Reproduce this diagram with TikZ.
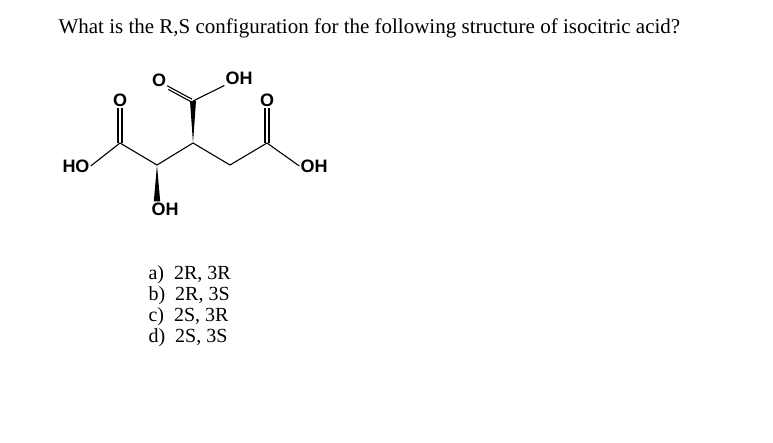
\documentclass[tikz,border=0pt]{standalone}
\usepackage{fontspec}
\setmainfont{Liberation Serif}
\newfontfamily\atomfont{Liberation Sans}
\begin{document}
\begin{tikzpicture}[x=1pt,y=-1pt,
  atom/.style={font=\atomfont\bfseries\fontsize{18}{18}\selectfont, inner sep=1pt},
  bond/.style={line width=1.1pt},
  wedge/.style={fill=black}]
\useasboundingbox (0,0) rectangle (773,442);
\node[anchor=west, font=\fontsize{21}{24}\selectfont] (q) at (55,28) {What is the R,S configuration for the following structure of isocitric acid?};
% skeleton
\coordinate (c1) at (120,143);
\coordinate (c2) at (157,165);
\coordinate (c3) at (193,143);
\coordinate (c5) at (193,101);
\coordinate (ch2) at (230,165);
\coordinate (c4) at (267,143);
\node[atom] (o1) at (120,100) {O};
\node[atom] (ho1) at (76,166) {HO};
\node[atom] (oh2) at (165,209) {OH};
\node[atom] (o5) at (159,80) {O};
\node[atom] (oh5) at (239,78) {OH};
\node[atom] (o4) at (267,100) {O};
\node[atom] (oh4) at (314,166) {OH};
\draw[bond] (c1) -- (c2) -- (c3);
\draw[bond] (c3) -- (ch2) -- (c4);
\draw[bond] (c1) -- (ho1.east);
\draw[bond] (c4) -- (oh4.west);
\draw[bond] ([xshift=-2pt]c1) -- ([xshift=-2pt]o1.south);
\draw[bond] ([xshift=2pt]c1) -- ([xshift=2pt]o1.south);
\draw[bond] ([xshift=-2pt]c4) -- ([xshift=-2pt]o4.south);
\draw[bond] ([xshift=2pt]c4) -- ([xshift=2pt]o4.south);
\draw[bond] (c5) -- (oh5.south west);
\draw[bond] ([yshift=-1.8pt]c5) -- ([yshift=-1.8pt,xshift=1pt]o5.south east);
\draw[bond] ([yshift=1.8pt,xshift=-1pt]c5) -- ([yshift=1.8pt,xshift=0pt]o5.south east);
\fill[wedge] (c3) -- ([xshift=-3pt]c5) -- ([xshift=3pt]c5) -- cycle;
\fill[wedge] (c2) -- ([xshift=-3.2pt]oh2.north west -| c2) -- ([xshift=3.2pt]oh2.north west -| c2) -- cycle;
% answers
\node[anchor=north west, align=left, font=\fontsize{20}{21}\selectfont] (ans) at (145,262) {a)\ \ 2R, 3R\\ b)\ \ 2R, 3S\\ c)\ \ 2S, 3R\\ d)\ \ 2S, 3S};
\end{tikzpicture}
\end{document}
